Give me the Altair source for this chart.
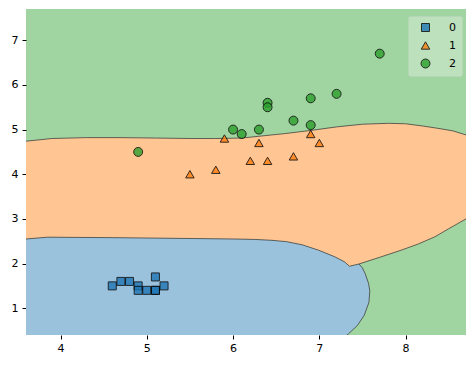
import altair as alt
import pandas as pd

# ---- scatter points (test samples) ----
c0_x = [4.6, 4.7, 4.8, 4.9, 4.9, 5.0, 5.1, 5.1, 5.1, 5.2]
c0_y = [1.5, 1.6, 1.6, 1.5, 1.4, 1.4, 1.4, 1.4, 1.7, 1.5]
c1_x = [5.5, 5.8, 5.9, 6.2, 6.3, 6.4, 6.7, 6.9, 7.0]
c1_y = [4.0, 4.1, 4.8, 4.3, 4.7, 4.3, 4.4, 4.9, 4.7]
c2_x = [4.9, 6.0, 6.1, 6.3, 6.4, 6.4, 6.7, 6.9, 6.9, 7.2, 7.7]
c2_y = [4.5, 5.0, 4.9, 5.0, 5.6, 5.5, 5.2, 5.7, 5.1, 5.8, 6.7]
classes = ["0", "1", "2"]

# ---- decision boundaries ----
# orange / green (upper) boundary
upper_x = [3.6, 3.9, 4.3, 4.7, 5.1, 5.5, 5.8, 6.1, 6.3, 6.6, 6.9, 7.2, 7.5, 7.8, 8.0, 8.2, 8.4, 8.55, 8.7]
upper_y = [4.74, 4.80, 4.82, 4.82, 4.81, 4.80, 4.80, 4.81, 4.85, 4.91, 4.98, 5.06, 5.12, 5.14, 5.13, 5.08, 5.02, 4.97, 4.88]
# blue / orange then orange / green (lower) boundary
lower_x = [3.6, 3.85, 4.6, 5.55, 6.0, 6.25, 6.45, 6.62, 6.8, 6.99, 7.18, 7.29, 7.35, 7.46, 7.7, 7.95, 8.15, 8.34, 8.5, 8.7]
lower_y = [2.55, 2.59, 2.58, 2.56, 2.55, 2.54, 2.52, 2.49, 2.42, 2.30, 2.15, 2.04, 1.94, 1.99, 2.14, 2.30, 2.44, 2.60, 2.78, 3.0]
junction = 13  # index in lower_* where blue, orange and green meet
# blue / green boundary (from the junction downward)
bulge_x = [7.46, 7.50, 7.53, 7.57, 7.585, 7.575, 7.52, 7.44, 7.34, 7.32]
bulge_y = [1.99, 1.90, 1.78, 1.56, 1.39, 1.13, 0.84, 0.61, 0.43, 0.40]

x_dom = [3.6, 8.7]
y_dom = [0.4, 7.7]
x_ticks = [4, 5, 6, 7, 8]
y_ticks = [1, 2, 3, 4, 5, 6, 7]

BLUE_R, ORANGE_R, GREEN_R = "#9ac2dd", "#ffc593", "#a0d4a0"
BLUE, ORANGE, GREEN = "#1f77b4", "#ff7f0e", "#2ca02c"

# ---- tables ----
orange_poly = pd.DataFrame({
    "x": upper_x + lower_x[::-1],
    "y": upper_y + lower_y[::-1],
})
orange_poly["o"] = range(len(orange_poly))

blue_poly = pd.DataFrame({
    "x": lower_x[: junction + 1] + bulge_x[1:] + [x_dom[0]],
    "y": lower_y[: junction + 1] + bulge_y[1:] + [y_dom[0]],
})
blue_poly["o"] = range(len(blue_poly))

upper_df = pd.DataFrame({"x": upper_x, "y": upper_y})
upper_df["o"] = range(len(upper_df))
lower_df = pd.DataFrame({"x": lower_x, "y": lower_y})
lower_df["o"] = range(len(lower_df))
bulge_df = pd.DataFrame({"x": bulge_x, "y": bulge_y})
bulge_df["o"] = range(len(bulge_df))

pts = pd.DataFrame({
    "x": c0_x + c1_x + c2_x,
    "y": c0_y + c1_y + c2_y,
    "cls": ["0"] * len(c0_x) + ["1"] * len(c1_x) + ["2"] * len(c2_x),
})

xs = alt.Scale(domain=x_dom, nice=False, zero=False)
ys = alt.Scale(domain=y_dom, nice=False, zero=False)
xax = alt.Axis(values=x_ticks, format="d", title=None, grid=False, domain=False, tickSize=4,
               labelPadding=3, tickColor="#000", labelColor="#000")
yax = alt.Axis(values=y_ticks, format="d", title=None, grid=False, domain=False, tickSize=4,
               labelPadding=4, tickColor="#000", labelColor="#000")


def poly(df, color):
    return alt.Chart(df).mark_line(fill=color, stroke=None, strokeWidth=0,
                                   interpolate="linear-closed", clip=True).encode(
        x=alt.X("x:Q", scale=xs, axis=xax),
        y=alt.Y("y:Q", scale=ys, axis=yax),
        order=alt.Order("o:Q"),
    )


def bline(df):
    return alt.Chart(df).mark_line(color="#3a3a3a", strokeWidth=1, opacity=0.75, clip=True).encode(
        x=alt.X("x:Q", scale=xs),
        y=alt.Y("y:Q", scale=ys),
        order=alt.Order("o:Q"),
    )


leg = alt.Legend(title=None, symbolStrokeWidth=1, symbolOpacity=0.8, symbolSize=64)
points = alt.Chart(pts).mark_point(filled=True, size=68, opacity=0.8,
                                   strokeWidth=1).encode(
    x=alt.X("x:Q", scale=xs),
    y=alt.Y("y:Q", scale=ys),
    color=alt.Color("cls:N", scale=alt.Scale(domain=classes, range=[BLUE, ORANGE, GREEN]),
                    legend=leg),
    stroke=alt.Stroke("cls:N", scale=alt.Scale(domain=classes,
                                               range=["black", "black", "black"]),
                      legend=leg),
    shape=alt.Shape("cls:N", scale=alt.Scale(domain=classes,
                                             range=["square", "triangle-up", "circle"]),
                    legend=leg),
    size=alt.Size("cls:N", scale=alt.Scale(domain=classes, range=[64, 80, 68]),
                  legend=None),
)

chart = alt.layer(
    poly(orange_poly, ORANGE_R),
    poly(blue_poly, BLUE_R),
    bline(upper_df),
    bline(lower_df),
    bline(bulge_df),
    points,
).properties(
    width=440, height=326,
    padding={"left": 3, "top": 1, "right": 0, "bottom": 0},
).configure_view(
    fill=GREEN_R, stroke=None,
).configure_axis(
    labelFont="DejaVu Sans", labelFontSize=11,
).configure_legend(
    orient="none", legendX=382, legendY=7,
    padding=6, symbolOffset=6, rowPadding=5, labelOffset=18,
    labelFont="DejaVu Sans", labelFontSize=11, labelColor="#000",
    fillColor="rgba(255,255,255,0.3)", strokeColor="rgba(204,204,204,0.3)",
    cornerRadius=2,
)

chart.save("out.html", embed_options={"renderer": "svg", "actions": False})
